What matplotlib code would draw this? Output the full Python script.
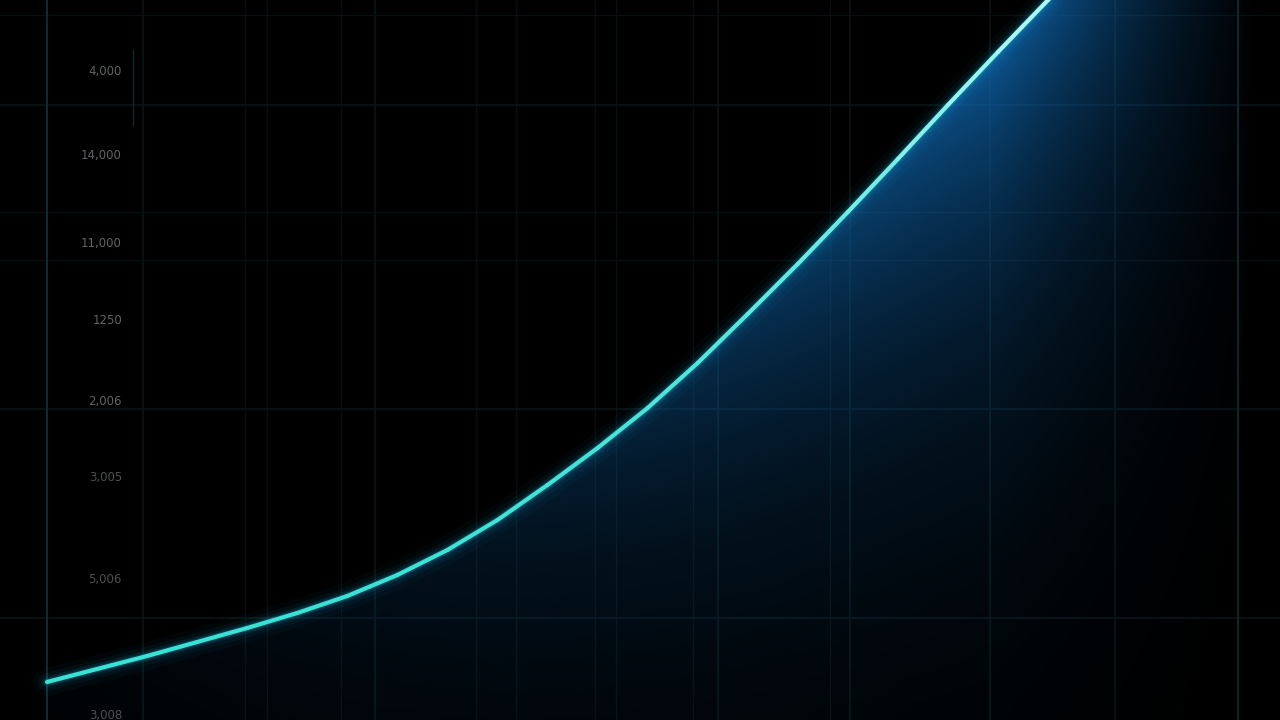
import numpy as np
import matplotlib.pyplot as plt
from matplotlib.collections import LineCollection
from matplotlib.colors import to_rgb
from matplotlib.patches import Polygon

# data
months = np.arange(22)
values = [38, 51, 64, 78, 92, 107, 124, 145, 170, 200, 235, 272, 312,
          357, 406, 456, 508, 561, 615, 668, 720, 773]
tick_vals = [649, 565, 477, 399, 319, 243, 140, 4]
tick_labels = ['4,000', '14,000', '11,000', '1250', '2,006', '3,005', '5,006', '3,008']

# layout: pixel of month 0 and pixels per month
X0, STEP = 47, 50.05
def px(p):
    return (p - X0) / STEP

fig = plt.figure(figsize=(12.8, 7.2), dpi=100, facecolor='black')
ax = fig.add_axes([0, 0, 1, 1])
ax.set_facecolor('black')
ax.set_xlim(px(0), px(1280))
ax.set_ylim(0, 720)
for s in ax.spines.values():
    s.set_visible(False)

# faint grid
ax.set_xticks([px(p) for p in [143, 375, 718, 850, 990, 1115]])
ax.set_xticks([px(p) for p in [245, 267, 341, 476, 516, 595, 616, 693, 830]], minor=True)
ax.set_yticks([615, 311, 102])
ax.set_yticks([705, 508, 460], minor=True)
ax.tick_params(which='both', length=0, labelbottom=False, labelleft=False)
ax.set_axisbelow(True)
ax.grid(which='major', color='#091516', lw=1.2)
ax.grid(which='minor', color='#070f10', lw=1.0)
ax.axvline(px(47), color='#0e2a2c', lw=1.5, zorder=0.6)
ax.axvline(px(1238), color='#0f2524', lw=1.5, zorder=0.6)
ax.plot([px(133), px(133)], [595, 670], color='#0e2a2c', lw=1, zorder=0.6)

# blue glow under the curve
gx = np.linspace(0, 1280, 256)
gy = np.linspace(0, 720, 144)
GX, GY = np.meshgrid(gx, gy)
cpx = X0 + np.linspace(0, 21, 300) * STEP
cpy = np.interp(np.linspace(0, 21, 300), months, values)
d2 = (GX[..., None] - cpx) ** 2 + (GY[..., None] - cpy) ** 2
idx = d2.argmin(axis=-1)
dist = np.sqrt(d2.min(axis=-1))
h = np.clip(cpy[idx] / 720, 0, 1)
inten = np.exp(-dist / 210) * h ** 1.1
inten *= np.clip((1260 - GX) / 260, 0, 1) ** 0.8
rgba = np.zeros(GX.shape + (4,))
rgba[..., :3] = np.array([14, 98, 168]) / 255
rgba[..., 3] = np.clip(inten * 0.92, 0, 1)
img = ax.imshow(rgba, extent=[px(0), px(1280), 0, 720], origin='lower',
                aspect='auto', interpolation='bilinear', zorder=1)
poly_pts = list(zip(months, values)) + [(px(1280), values[-1]), (px(1280), 0), (months[0], 0)]
clip = Polygon(poly_pts, closed=True, transform=ax.transData, fc='none', ec='none')
ax.add_patch(clip)
img.set_clip_path(clip)

# glowing line
for lw, a in [(20, 0.03), (13, 0.05), (8, 0.09), (5, 0.16)]:
    ax.plot(months, values, color='#19c6ff', lw=lw, alpha=a,
            solid_joinstyle='round', solid_capstyle='round', zorder=3)
pts = np.column_stack([months, values])
segs = np.stack([pts[:-1], pts[1:]], axis=1)
t = np.clip((np.array(values[:-1]) - 38) / 700, 0, 1)
c0, c1 = np.array(to_rgb('#38e2d4')), np.array(to_rgb('#c0fffb'))
core = [tuple(c0 + (c1 - c0) * v ** 2) for v in t]
ax.add_collection(LineCollection(segs, colors=core, linewidths=3.0,
                                 capstyle='round', joinstyle='round', zorder=4))

# y labels
for v, lab in zip(tick_vals, tick_labels):
    shade = '#5f6466' if v > 300 else '#4c5052'
    ax.text(px(122), v, lab, ha='right', va='center', fontsize=8.5,
            color=shade, zorder=5)

fig.savefig('out.png', dpi=100, facecolor='black')
